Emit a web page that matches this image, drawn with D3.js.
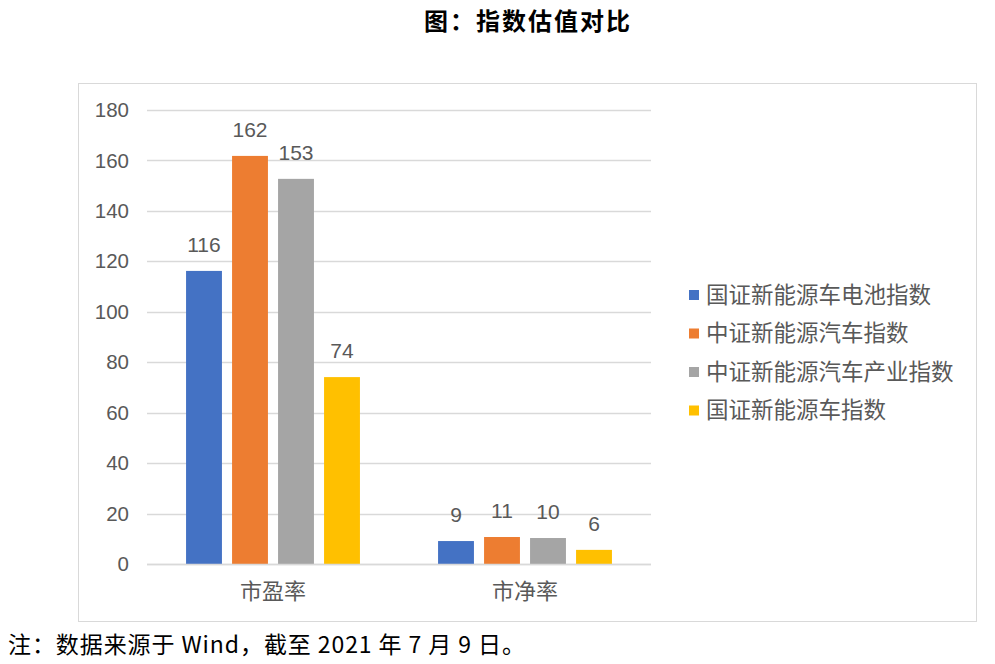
<!DOCTYPE html>
<html><head><meta charset="utf-8">
<script src="https://cdn.jsdelivr.net/npm/d3@7"></script>
<style>
body{margin:0;background:#fff;}
svg{display:block;font-family:"Liberation Sans","Noto Sans CJK SC",sans-serif;}
</style></head>
<body>
<svg id="c" width="995" height="664"></svg>
<script>
const categories = ["市盈率", "市净率"];
const seriesNames = ["国证新能源车电池指数", "中证新能源汽车指数", "中证新能源汽车产业指数", "国证新能源车指数"];
const seriesColors = ["#4472C4", "#ED7D31", "#A5A5A5", "#FFC000"];
const values = [
  [116.2, 9.1],
  [161.8, 10.7],
  [152.7, 10.3],
  [74.1, 5.6]
];
const yTicks = [0, 20, 40, 60, 80, 100, 120, 140, 160, 180];
const titleText = "图：指数估值对比";
const noteText = "注：数据来源于 Wind，截至 2021 年 7 月 9 日。";

const svg = d3.select("#c");
svg.append("rect").attr("x", 78.5).attr("y", 83.5).attr("width", 898).attr("height", 538)
  .attr("fill", "#fff").attr("stroke", "#d9d9d9");

svg.append("text").attr("x", 424).attr("y", 30)
  .attr("font-size", 24).attr("font-weight", "bold").attr("fill", "#000")
  .attr("textLength", 206).attr("lengthAdjust", "spacing")
  .style("font-family", "'Noto Sans CJK SC',sans-serif").text(titleText);

const x0 = d3.scaleBand().domain(categories).range([147, 651]).paddingInner(0.31).paddingOuter(0.155);
const x1 = d3.scaleBand().domain(seriesNames).range([0, x0.bandwidth()]).paddingInner(0.22);
const y = d3.scaleLinear().domain([0, 180]).range([564, 110]);

const grid = svg.append("g");
grid.selectAll("line").data(yTicks).join("line")
  .attr("x1", 147).attr("x2", 651)
  .attr("y1", d => Math.round(y(d)) + 0.5).attr("y2", d => Math.round(y(d)) + 0.5)
  .attr("stroke", "#d9d9d9").attr("stroke-width", 1.5);

const yAxis = d3.axisLeft(y).tickValues(yTicks).tickSize(0).tickPadding(0);
const ga = svg.append("g").attr("transform", "translate(129,0)").call(yAxis);
ga.select(".domain").remove();
ga.selectAll("text").attr("font-size", 20.5).attr("fill", "#595959")
  .style("font-family", "'Liberation Sans',sans-serif");

const fmt = d3.format(".0f");
seriesNames.forEach((s, i) => {
  const g = svg.append("g");
  const data = categories.map((c, j) => ({c, v: values[i][j]}));
  g.selectAll("rect").data(data).join("rect")
    .attr("x", d => x0(d.c) + x1(s))
    .attr("y", d => y(d.v))
    .attr("width", x1.bandwidth())
    .attr("height", d => y(0) - y(d.v))
    .attr("fill", seriesColors[i]);
  g.selectAll("text").data(data).join("text")
    .attr("x", d => x0(d.c) + x1(s) + x1.bandwidth() / 2)
    .attr("y", d => y(d.v) - 19)
    .attr("text-anchor", "middle").attr("font-size", 21).attr("fill", "#595959")
    .text(d => fmt(d.v));
});

svg.append("line").attr("x1", 147).attr("x2", 651).attr("y1", 564.5).attr("y2", 564.5)
  .attr("stroke", "#d9d9d9").attr("stroke-width", 1.5);

const xAxis = d3.axisBottom(x0).tickSize(0).tickPadding(0);
const gx = svg.append("g").attr("transform", "translate(0,583)").call(xAxis);
gx.select(".domain").remove();
gx.selectAll("text").attr("font-size", 22).attr("fill", "#595959")
  .style("font-family", "'Noto Sans CJK SC',sans-serif");

const leg = svg.append("g").attr("transform", "translate(689,295)");
seriesNames.forEach((s, i) => {
  const r = leg.append("g").attr("transform", `translate(0,${i * 38.5})`);
  r.append("rect").attr("x", 0).attr("y", -5).attr("width", 10).attr("height", 10).attr("fill", seriesColors[i]);
  r.append("text").attr("x", 17).attr("y", 0).attr("dy", "0.35em").attr("font-size", 22.5)
    .attr("fill", "#595959").style("font-family", "'Noto Sans CJK SC',sans-serif").text(s);
});

svg.append("text").attr("x", 8).attr("y", 653).attr("font-size", 23).attr("fill", "#000")
  .attr("textLength", 517).attr("lengthAdjust", "spacing")
  .style("font-family", "'Noto Sans CJK SC',sans-serif").text(noteText);
</script>
</body></html>
